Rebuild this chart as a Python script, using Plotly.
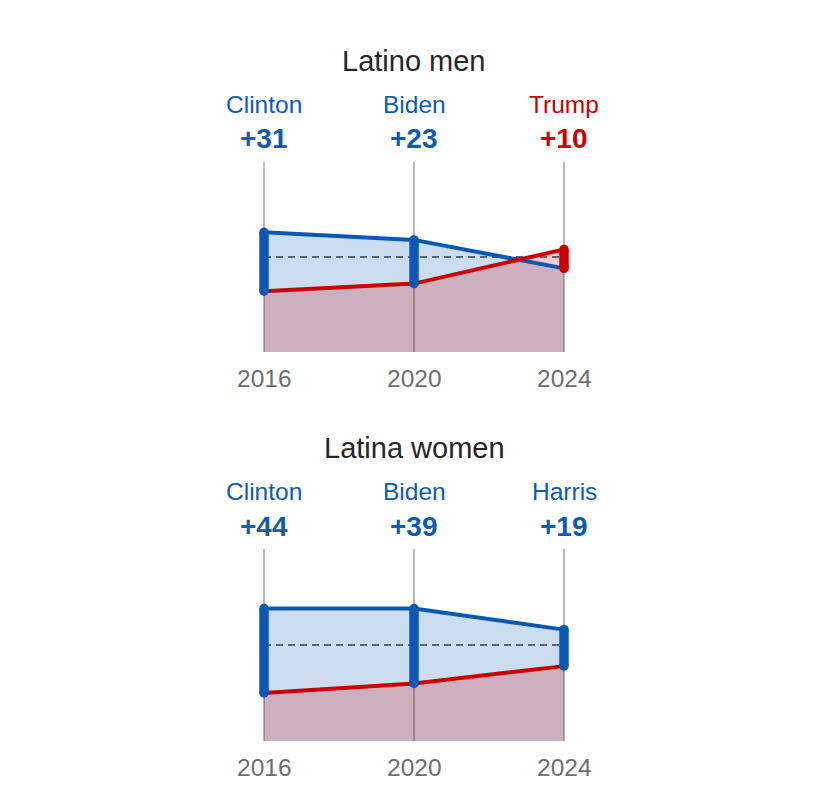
import plotly.graph_objects as go

years = [2016, 2020, 2024]
year_labels = ["2016", "2020", "2024"]

men_dem = [63, 59, 44]
men_rep = [32, 36, 54]
men_names = ["Clinton", "Biden", "Trump"]
men_margins = ["+31", "+23", "+10"]
men_party = ["D", "D", "R"]

women_dem = [69, 69, 58]
women_rep = [25, 30, 39]
women_names = ["Clinton", "Biden", "Harris"]
women_margins = ["+44", "+39", "+19"]
women_party = ["D", "D", "D"]

titles = ["Latino men", "Latina women"]

BLUE = "#0a58b4"
RED = "#cc0000"
TEXT_BLUE = "#0b5cb2"
FONT = "Liberation Sans, Arial, sans-serif"

W, H = 828, 799
fig = go.Figure()

panels = [
    dict(dem=men_dem, rep=men_rep, names=men_names, margins=men_margins, party=men_party,
         title=titles[0], xa="x", ya="y", top=162, bottom=352),
    dict(dem=women_dem, rep=women_rep, names=women_names, margins=women_margins, party=women_party,
         title=titles[1], xa="x2", ya="y2", top=549, bottom=741),
]

pad = 7.04
for i, p in enumerate(panels):
    xa, ya = p["xa"], p["ya"]
    # fills
    fig.add_trace(go.Scatter(x=years, y=p["dem"], xaxis=xa, yaxis=ya, mode="lines",
                             fill="tozeroy", fillcolor="rgba(0,85,180,0.2)",
                             line=dict(width=0), hoverinfo="skip", showlegend=False))
    fig.add_trace(go.Scatter(x=years, y=p["rep"], xaxis=xa, yaxis=ya, mode="lines",
                             fill="tozeroy", fillcolor="rgba(204,0,0,0.2)",
                             line=dict(width=0), hoverinfo="skip", showlegend=False))
    # 50% dashed line
    fig.add_trace(go.Scatter(x=[years[0], years[-1]], y=[50, 50], xaxis=xa, yaxis=ya, mode="lines",
                             line=dict(color="#56657a", width=1.8, dash="7px,5px"),
                             hoverinfo="skip", showlegend=False))
    # party lines
    fig.add_trace(go.Scatter(x=years, y=p["dem"], xaxis=xa, yaxis=ya, mode="lines",
                             line=dict(color=BLUE, width=4), hoverinfo="skip", showlegend=False))
    fig.add_trace(go.Scatter(x=years, y=p["rep"], xaxis=xa, yaxis=ya, mode="lines",
                             line=dict(color=RED, width=4), hoverinfo="skip", showlegend=False))
    # margin bars
    for j, yr in enumerate(years):
        c = BLUE if p["party"][j] == "D" else RED
        lo, hi = sorted([p["dem"][j], p["rep"][j]])
        fig.add_trace(go.Scatter(x=[yr, yr], y=[lo, hi], xaxis=xa, yaxis=ya, mode="lines+markers",
                                 line=dict(color=c, width=9.5),
                                 marker=dict(color=c, size=9.5, line=dict(width=0)),
                                 hoverinfo="skip", showlegend=False))
        tc = TEXT_BLUE if p["party"][j] == "D" else RED
        fig.add_annotation(x=yr, xref=xa, y=1 - (p["top"] - 58) / H, yref="paper",
                           text=p["names"][j], showarrow=False, yanchor="middle",
                           font=dict(family=FONT, size=24.5, color=tc))
        fig.add_annotation(x=yr, xref=xa, y=1 - (p["top"] - 23) / H, yref="paper",
                           text="<b>" + p["margins"][j] + "</b>", showarrow=False, yanchor="middle",
                           font=dict(family=FONT, size=28, color=tc))
        fig.add_annotation(x=yr, xref=xa, y=1 - (p["bottom"] + 26) / H, yref="paper",
                           text=year_labels[j], showarrow=False, yanchor="middle",
                           font=dict(family=FONT, size=24.5, color="#6e6e6e"))
    fig.add_annotation(x=years[1], xref=xa, y=1 - (p["top"] - 101) / H, yref="paper",
                       text=p["title"], showarrow=False, yanchor="middle",
                       font=dict(family=FONT, size=29, color="#262626"))

axis_x = dict(range=[years[0] - pad, years[-1] + pad], domain=[0, 1], tickvals=years,
              showticklabels=False, showgrid=True, gridcolor="#b8b8b8", gridwidth=1.5,
              zeroline=False, showline=False, fixedrange=True)
fig.update_layout(
    width=W, height=H,
    margin=dict(l=0, r=0, t=0, b=0),
    paper_bgcolor="white", plot_bgcolor="rgba(0,0,0,0)",
    xaxis=dict(axis_x, anchor="y"),
    xaxis2=dict(axis_x, anchor="y2"),
    yaxis=dict(range=[0, 100], domain=[1 - 352 / H, 1 - 162 / H], visible=False, anchor="x", fixedrange=True),
    yaxis2=dict(range=[0, 100], domain=[1 - 741 / H, 1 - 549 / H], visible=False, anchor="x2", fixedrange=True),
    showlegend=False,
)

fig.write_html("out.html")
